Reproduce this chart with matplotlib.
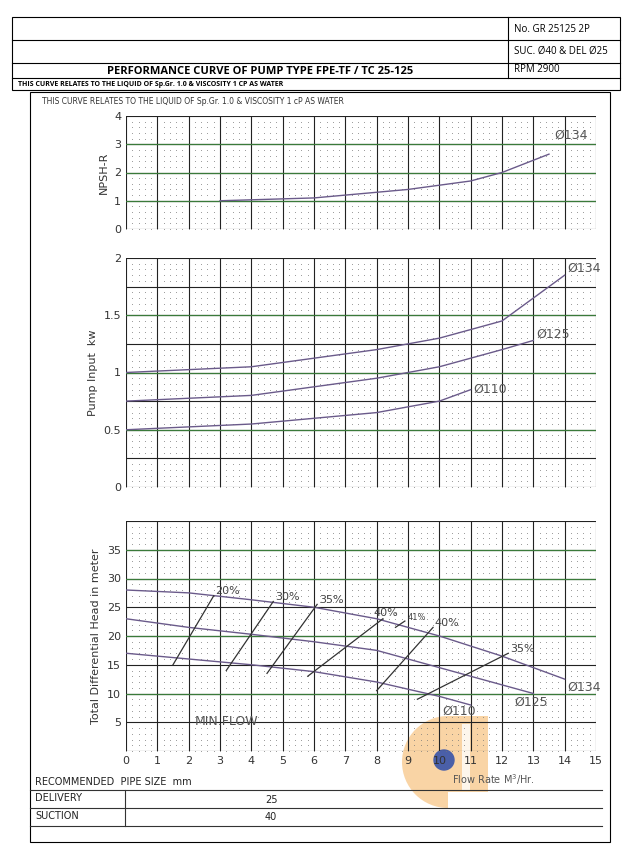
import numpy as np
import matplotlib.pyplot as plt
from matplotlib.patches import Rectangle, Circle, Wedge

# Data
flow_npsh = [3, 6, 9, 11, 12, 13.5]
npsh_134 = [1.0, 1.1, 1.4, 1.7, 2.0, 2.65]

flow_p134 = [0, 4, 8, 10, 12, 14]
power_134 = [1.0, 1.05, 1.2, 1.3, 1.45, 1.85]
flow_p125 = [0, 4, 8, 10, 12, 13]
power_125 = [0.75, 0.8, 0.95, 1.05, 1.2, 1.28]
flow_p110 = [0, 4, 8, 10, 11]
power_110 = [0.5, 0.55, 0.65, 0.75, 0.85]

flow_h134 = [0, 2, 4, 6, 8, 10, 12, 13, 14]
head_134 = [28, 27.5, 26.3, 25, 23, 20, 16.5, 14.5, 12.5]
flow_h125 = [0, 2, 4, 6, 8, 10, 12, 13]
head_125 = [23, 21.5, 20.3, 19, 17.5, 14.5, 11.5, 10]
flow_h110 = [0, 2, 4, 6, 8, 10, 11]
head_110 = [17, 16, 15, 13.8, 12, 9.5, 8]

eff_labels = ["20%", "30%", "35%", "40%", "41%", "40%", "35%"]
eff_x = [(1.5, 2.8), (3.2, 4.7), (4.5, 6.1), (5.8, 8.2), (8.6, 8.9), (8.0, 9.8), (9.3, 12.2)]
eff_y = [(15, 27), (14, 26), (13.5, 25.5), (13, 23), (21.5, 22.6), (10.5, 21.5), (9, 17)]
eff_text_x = [2.85, 4.75, 6.15, 7.9, 9.0, 9.85, 12.25]
eff_text_y = [27.3, 26.3, 25.8, 23.4, 22.8, 21.8, 17.3]

W, H = 630, 852
fig = plt.figure(figsize=(6.3, 8.52), dpi=100)
bg = fig.add_axes([0, 0, 1, 1])
bg.set_xlim(0, W)
bg.set_ylim(H, 0)
bg.axis("off")

# Header table
lw = 0.8
bg.add_patch(Rectangle((12, 17), 608, 73, fill=False, lw=lw))
for yy in (40, 63):
    bg.plot([12, 620], [yy, yy], color="k", lw=lw)
bg.plot([508, 508], [17, 78], color="k", lw=lw)
bg.plot([12, 620], [78, 78], color="k", lw=lw)
bg.text(514, 29, "No. GR 25125 2P", fontsize=7, va="center", family="Open Sans")
bg.text(514, 51, "SUC. Ø40 & DEL Ø25", fontsize=7, va="center", family="Open Sans")
bg.text(514, 70, "RPM 2900", fontsize=7, va="center", family="Open Sans")
bg.text(260, 71, "PERFORMANCE CURVE OF PUMP TYPE FPE-TF / TC 25-125", fontsize=8,
        ha="center", va="center", fontweight="bold", family="Open Sans")
bg.text(18, 85, "THIS CURVE RELATES TO THE LIQUID OF Sp.Gr. 1.0 & VISCOSITY 1 CP AS WATER",
        fontsize=5, va="center", fontweight="bold", family="Open Sans")

# Inner sheet
bg.add_patch(Rectangle((30, 92), 580, 750, fill=False, lw=0.8))
bg.text(42, 101, "THIS CURVE RELATES TO THE LIQUID OF Sp.Gr. 1.0 & VISCOSITY 1 cP AS WATER",
        fontsize=5.5, va="center", color="#333333")

# Logo watermark
bg.add_patch(Wedge((448, 762), 46, 90, 270, color="#f5b86a", alpha=0.6, lw=0))
bg.add_patch(Rectangle((448, 716), 40, 76, color="#f5b86a", alpha=0.6, lw=0))
bg.add_patch(Circle((444, 760), 10, color="#4a5fa8"))
bg.add_patch(Rectangle((462, 724), 8, 66, color="white", alpha=0.8, lw=0))

# Bottom pipe table
bg.text(35, 782, "RECOMMENDED  PIPE SIZE  mm", fontsize=7, va="center", color="#222222")
for yy in (790, 808, 826):
    bg.plot([30, 602], [yy, yy], color="#333333", lw=0.8)
bg.plot([125, 125], [790, 826], color="#333333", lw=0.8)
bg.text(35, 798, "DELIVERY", fontsize=7, va="center", color="#222222")
bg.text(35, 816, "SUCTION", fontsize=7, va="center", color="#222222")
bg.text(265, 800, "25", fontsize=7, va="center", color="#222222")
bg.text(265, 817, "40", fontsize=7, va="center", color="#222222")
bg.text(452, 780, "Flow Rate M$^3$/Hr.", fontsize=7, va="center", color="#555555")

x0, x1 = 126, 596


def make_ax(y_bot, y_top):
    return fig.add_axes([x0 / W, 1 - y_bot / H, (x1 - x0) / W, (y_bot - y_top) / H])


def style(ax, ymax, ystep, major):
    ax.set_xlim(0, 15)
    ax.set_ylim(0, ymax)
    ax.set_xticks(np.arange(0, 16, 1))
    ax.set_yticks(np.arange(0, ymax + 0.001, ystep))
    ax.grid(True, color="#222222", lw=0.8)
    # dotted fill
    xs = np.arange(0, 15, 0.2)
    ys = np.arange(0, ymax, ystep / 5)
    X, Y = np.meshgrid(xs, ys)
    ax.scatter(X.ravel(), Y.ravel(), s=0.3, color="#777777", lw=0)
    for yy in major:
        ax.axhline(yy, color="#3a7a3a", lw=0.9)
    for s in ax.spines.values():
        s.set_visible(False)
    ax.tick_params(length=0, labelsize=8, colors="#333333")
    ax.set_facecolor("none")


curve = dict(color="#6a5a8a", lw=1)

# NPSH panel
ax1 = make_ax(229, 116)
style(ax1, 4, 1, [1, 2, 3])
ax1.set_yticks([0, 1, 2, 3, 4])
ax1.set_xticklabels([])
ax1.plot(flow_npsh, npsh_134, **curve)
ax1.text(14.2, 3.2, "Ø134", fontsize=9, color="#555555", ha="center")
ax1.set_ylabel("NPSH-R", fontsize=8, color="#333333")

# Power panel
ax2 = make_ax(487, 258)
style(ax2, 2, 0.25, [0.5, 1.0, 1.5])
ax2.set_yticks([0, 0.25, 0.5, 0.75, 1, 1.25, 1.5, 1.75, 2])
ax2.set_yticklabels(["0", "", "0.5", "", "1", "", "1.5", "", "2"])
ax2.set_xticklabels([])
ax2.plot(flow_p134, power_134, **curve)
ax2.plot(flow_p125, power_125, **curve)
ax2.plot(flow_p110, power_110, **curve)
ax2.text(14.1, 1.88, "Ø134", fontsize=9, color="#555555")
ax2.text(13.1, 1.3, "Ø125", fontsize=9, color="#555555")
ax2.text(11.1, 0.82, "Ø110", fontsize=9, color="#555555")
ax2.set_ylabel("Pump Input  kw", fontsize=8, color="#333333")

# Head panel
ax3 = make_ax(751, 521)
style(ax3, 40, 5, [10, 20, 30, 35])
ax3.set_yticklabels(["", "5", "10", "15", "20", "25", "30", "35", ""])
ax3.plot(flow_h134, head_134, **curve)
ax3.plot(flow_h125, head_125, **curve)
ax3.plot(flow_h110, head_110, **curve)
for lab, ex, ey, tx, ty in zip(eff_labels, eff_x, eff_y, eff_text_x, eff_text_y):
    ax3.plot(ex, ey, color="#333333", lw=0.9)
    ax3.text(tx, ty, lab, fontsize=6 if lab == "41%" else 8, color="#444444")
ax3.text(14.1, 10.5, "Ø134", fontsize=9, color="#555555")
ax3.text(12.4, 7.8, "Ø125", fontsize=9, color="#555555")
ax3.text(10.1, 6.3, "Ø110", fontsize=9, color="#555555")
ax3.text(2.2, 4.5, "MIN.FLOW", fontsize=9, color="#555555")
ax3.set_ylabel("Total Differential Head in meter", fontsize=8, color="#333333")

fig.savefig("out.png", dpi=100, facecolor="white")
